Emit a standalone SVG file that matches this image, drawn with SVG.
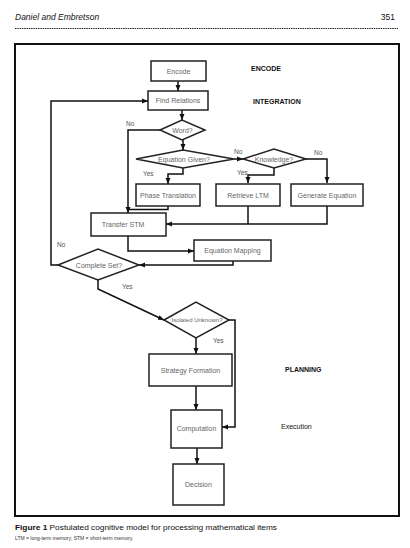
<svg xmlns="http://www.w3.org/2000/svg" width="410" height="548" viewBox="0 0 410 548">
<defs>
<marker id="ah" markerUnits="userSpaceOnUse" markerWidth="6" markerHeight="6" refX="6" refY="3" orient="auto">
<path d="M0,0.5 L6,3 L0,5.5 z" fill="#111"/>
</marker>
<style>
.box{fill:#fff;stroke:#222;stroke-width:1.5}
.bt{font-family:"Liberation Sans",Arial,sans-serif;font-size:7px;fill:#666;text-anchor:middle}
.lb{font-family:"Liberation Sans",Arial,sans-serif;font-size:6.5px;fill:#555}
.hd{font-family:"Liberation Sans",Arial,sans-serif;font-size:7px;font-weight:bold;fill:#111}
.cn{fill:none;stroke:#111;stroke-width:1.5}
</style>
</defs>
<rect x="0" y="0" width="410" height="548" fill="#fff"/>
<text x="15" y="20" font-family="Liberation Sans, Arial, sans-serif" font-size="8.5" font-style="italic" fill="#111">Daniel and Embretson</text>
<text x="395" y="20" font-family="Liberation Sans, Arial, sans-serif" font-size="8.5" fill="#111" text-anchor="end">351</text>
<line x1="15" y1="28.5" x2="398" y2="28.5" stroke="#222" stroke-width="1" stroke-dasharray="1.5,0.8"/>
<rect x="15" y="44" width="384" height="472" fill="none" stroke="#111" stroke-width="2"/>

<g id="connectors">
<polyline class="cn" points="178,81 178,91" marker-end="url(#ah)"/>
<polyline class="cn" points="182,110 182,120" marker-end="url(#ah)"/>
<polyline class="cn" points="160,130 128,130 128,213" marker-end="url(#ah)"/>
<polyline class="cn" points="183,140 183,150" marker-end="url(#ah)"/>
<polyline class="cn" points="234,159 243,159" marker-end="url(#ah)"/>
<polyline class="cn" points="306,159 327,159 327,183" marker-end="url(#ah)"/>
<polyline class="cn" points="274,168 274,175 248,175 248,183" marker-end="url(#ah)"/>
<polyline class="cn" points="183,168 183,174 168,174 168,184" marker-end="url(#ah)"/>
<polyline class="cn" points="168,206 168,209.5 128,209.5"/>
<polyline class="cn" points="248,206 248,224"/>
<polyline class="cn" points="327,206 327,224 166,224" marker-end="url(#ah)"/>
<polyline class="cn" points="128,236 128,251 194,251" marker-end="url(#ah)"/>
<polyline class="cn" points="233,261 233,265 139,265" marker-end="url(#ah)"/>
<polyline class="cn" points="58,265 51,265 51,101 148,101" marker-end="url(#ah)"/>
<polyline class="cn" points="98,280 98,289 164,320" marker-end="url(#ah)"/>
<polyline class="cn" points="196,338 196,354" marker-end="url(#ah)"/>
<polyline class="cn" points="229,320 235,320 235,427 222,427" marker-end="url(#ah)"/>
<polyline class="cn" points="196,386 196,410" marker-end="url(#ah)"/>
<polyline class="cn" points="197,448 197,464" marker-end="url(#ah)"/>
<text class="lb" x="126" y="126">No</text>
<text class="lb" x="234" y="154">No</text>
<text class="lb" x="314" y="155">No</text>
<text class="lb" x="237" y="175">Yes</text>
<text class="lb" x="143" y="176">Yes</text>
<text class="lb" x="57" y="247">No</text>
<text class="lb" x="122" y="289">Yes</text>
<text class="lb" x="213" y="343">Yes</text>
</g>

<g id="encode"><rect class="box" x="151" y="61" width="55" height="20"/><text class="bt" x="178.5" y="73.5">Encode</text></g>
<g id="find-relations"><rect class="box" x="148" y="91" width="60" height="19"/><text class="bt" x="178" y="103">Find Relations</text></g>
<g id="word"><polygon class="box" points="160,130 182,120 205,130 182,140"/><text class="bt" x="182.5" y="132.5">Word?</text></g>
<g id="equation-given"><polygon class="box" points="136,159 183,150 234,159 183,168"/><text class="bt" x="184" y="161.5">Equation Given?</text></g>
<g id="knowledge"><polygon class="box" points="243,159 274,149 306,159 274,168"/><text class="bt" x="274" y="161.5">Knowledge?</text></g>
<g id="phase-translation"><rect class="box" x="136" y="184" width="64" height="22"/><text class="bt" x="168" y="197.5">Phase Translation</text></g>
<g id="retrieve-ltm"><rect class="box" x="216" y="184" width="64" height="22"/><text class="bt" x="248" y="197.5">Retrieve LTM</text></g>
<g id="generate-equation"><rect class="box" x="291" y="184" width="72" height="22"/><text class="bt" x="327" y="197.5">Generate Equation</text></g>
<g id="transfer-stm"><rect class="box" x="91" y="213" width="75" height="23"/><text class="bt" x="123" y="227">Transfer STM</text></g>
<g id="equation-mapping"><rect class="box" x="194" y="240" width="77" height="21"/><text class="bt" x="232.5" y="253">Equation Mapping</text></g>
<g id="complete-set"><polygon class="box" points="58,265 98,249 139,265 98,280"/><text class="bt" x="99" y="267.5">Complete Set?</text></g>
<g id="isolated-unknown"><polygon class="box" points="164,320 196,302 229,320 196,338"/><text class="bt" x="197" y="322" style="font-size:6px">Isolated Unknown?</text></g>
<g id="strategy-formation"><rect class="box" x="149" y="354" width="83" height="32"/><text class="bt" x="190.5" y="372.5">Strategy Formation</text></g>
<g id="computation"><rect class="box" x="171" y="410" width="51" height="38"/><text class="bt" x="196.5" y="431">Computation</text></g>
<g id="decision"><rect class="box" x="173" y="464" width="51" height="41"/><text class="bt" x="198.5" y="487">Decision</text></g>

<text class="hd" x="251" y="71">ENCODE</text>
<text class="hd" x="253" y="104">INTEGRATION</text>
<text class="hd" x="285" y="372">PLANNING</text>
<text x="281" y="428.5" font-family="Liberation Sans, Arial, sans-serif" font-size="7" fill="#111">Execution</text>

<text x="15" y="530" font-family="Liberation Sans, Arial, sans-serif" font-size="7.5" fill="#111" textLength="262" lengthAdjust="spacingAndGlyphs"><tspan font-weight="bold">Figure 1</tspan> Postulated cognitive model for processing mathematical items</text>
<text x="15" y="540" font-family="Liberation Sans, Arial, sans-serif" font-size="5" fill="#333">LTM = long-term memory; STM = short-term memory.</text>
</svg>
